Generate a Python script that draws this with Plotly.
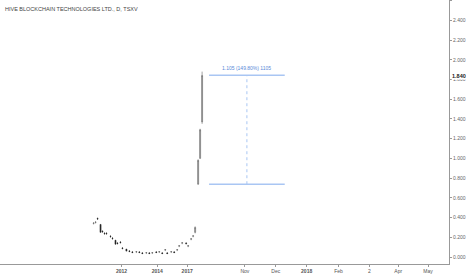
import plotly.graph_objects as go

# ---- data (bar index on a compressed time axis, OHLC prices) ----
bar_x = [94, 96, 98, 101, 103, 105, 107, 111, 113, 116, 118, 121, 123, 127, 130, 133,
         137, 140, 143, 147, 150, 153, 157, 160, 163, 166, 168, 172, 175, 178, 180,
         183, 187, 189, 192, 194, 196, 199, 201, 203]
bar_open = [0.34, 0.35, 0.39, 0.33, 0.26, 0.24, 0.24, 0.21, 0.19, 0.17, 0.14, 0.15, 0.09, 0.08, 0.06, 0.05,
            0.05, 0.05, 0.04, 0.04, 0.04, 0.04, 0.05, 0.05, 0.04, 0.07, 0.04, 0.05, 0.05, 0.07, 0.11,
            0.14, 0.14, 0.11, 0.18, 0.21, 0.25, 0.74, 1.00, 1.37]
bar_high = [0.35, 0.36, 0.40, 0.33, 0.27, 0.25, 0.25, 0.22, 0.20, 0.17, 0.15, 0.16, 0.10, 0.08, 0.07, 0.06,
            0.06, 0.06, 0.05, 0.05, 0.05, 0.05, 0.06, 0.06, 0.05, 0.08, 0.05, 0.06, 0.06, 0.08, 0.12,
            0.15, 0.15, 0.12, 0.19, 0.22, 0.31, 0.99, 1.30, 1.88]
bar_low = [0.33, 0.34, 0.38, 0.25, 0.25, 0.23, 0.23, 0.20, 0.18, 0.13, 0.13, 0.14, 0.08, 0.06, 0.05, 0.04,
           0.04, 0.04, 0.03, 0.03, 0.03, 0.03, 0.04, 0.04, 0.03, 0.06, 0.03, 0.04, 0.04, 0.06, 0.10,
           0.13, 0.13, 0.10, 0.17, 0.20, 0.24, 0.73, 1.00, 1.35]
bar_close = [0.345, 0.355, 0.385, 0.25, 0.255, 0.235, 0.235, 0.205, 0.185, 0.13, 0.135, 0.145, 0.085, 0.06, 0.055, 0.045,
             0.055, 0.045, 0.035, 0.045, 0.035, 0.045, 0.045, 0.055, 0.035, 0.075, 0.035, 0.055, 0.045, 0.075, 0.115,
             0.145, 0.135, 0.115, 0.185, 0.215, 0.30, 0.98, 1.29, 1.84]

tick_pos = [122, 158, 188, 246, 277, 308, 340, 371, 400, 430]
tick_text = ["<b>2012</b>", "<b>2014</b>", "<b>2017</b>", "Nov", "Dec", "<b>2018</b>",
             "Feb", "2", "Apr", "May"]

last_price = 1.840
measure_low = 0.738
measure_high = 1.843
measure_x0, measure_x1, measure_xm = 210, 286, 248
measure_label = "1.105 (149.80%) 1105"
title = "HIVE BLOCKCHAIN TECHNOLOGIES LTD., D, TSXV"

fig = go.Figure()
fig.add_trace(go.Candlestick(
    x=bar_x, open=bar_open, high=bar_high, low=bar_low, close=bar_close,
    increasing=dict(line=dict(color="#666666", width=0.6), fillcolor="#a8a8a8"),
    decreasing=dict(line=dict(color="#222222", width=0.6), fillcolor="#222222"),
    whiskerwidth=0, showlegend=False, hoverinfo="skip"))

mcol = "#a9c6f3"
fig.add_shape(type="line", x0=measure_x0, x1=measure_x1, y0=measure_high, y1=measure_high,
              line=dict(color=mcol, width=1.5))
fig.add_shape(type="line", x0=measure_x0, x1=measure_x1, y0=measure_low, y1=measure_low,
              line=dict(color=mcol, width=1.5))
fig.add_shape(type="line", x0=measure_xm, x1=measure_xm, y0=measure_low, y1=measure_high,
              line=dict(color=mcol, width=1, dash="dot"))
fig.add_annotation(x=measure_xm, y=measure_high, text=measure_label, showarrow=False,
                   yanchor="bottom", yshift=2, font=dict(size=5, color="#5a8ad8",
                                                         family="Liberation Sans"))

fig.add_annotation(xref="paper", yref="y", x=1, y=last_price, text="<b>1.840</b>",
                   showarrow=False, xanchor="left", xshift=2, bgcolor="white",
                   borderpad=0, font=dict(size=5.5, color="#222", family="Liberation Sans"))
fig.add_annotation(xref="paper", yref="paper", x=0.006, y=0.965, text=title,
                   showarrow=False, xanchor="left", yanchor="middle",
                   font=dict(size=5.5, color="#444", family="Liberation Sans"))

fig.update_layout(
    width=466, height=275, margin=dict(l=0, r=15, t=0, b=11),
    paper_bgcolor="white", plot_bgcolor="white",
    font=dict(family="Liberation Sans", size=5, color="#555"),
    xaxis=dict(range=[0, 451], tickvals=tick_pos, ticktext=tick_text, showgrid=False,
               zeroline=False, showline=True, linecolor="#999", linewidth=1,
               ticks="outside", ticklen=2, tickcolor="#999", rangeslider=dict(visible=False),
               tickfont=dict(size=5, color="#555")),
    yaxis=dict(side="right", range=[-0.071, 2.606], dtick=0.2, tick0=0, tickformat=".3f",
               showgrid=False, zeroline=False, showline=True, linecolor="#999", linewidth=1,
               ticks="outside", ticklen=2, tickcolor="#999",
               tickfont=dict(size=5, color="#666")),
)
fig.write_html("out.html")
